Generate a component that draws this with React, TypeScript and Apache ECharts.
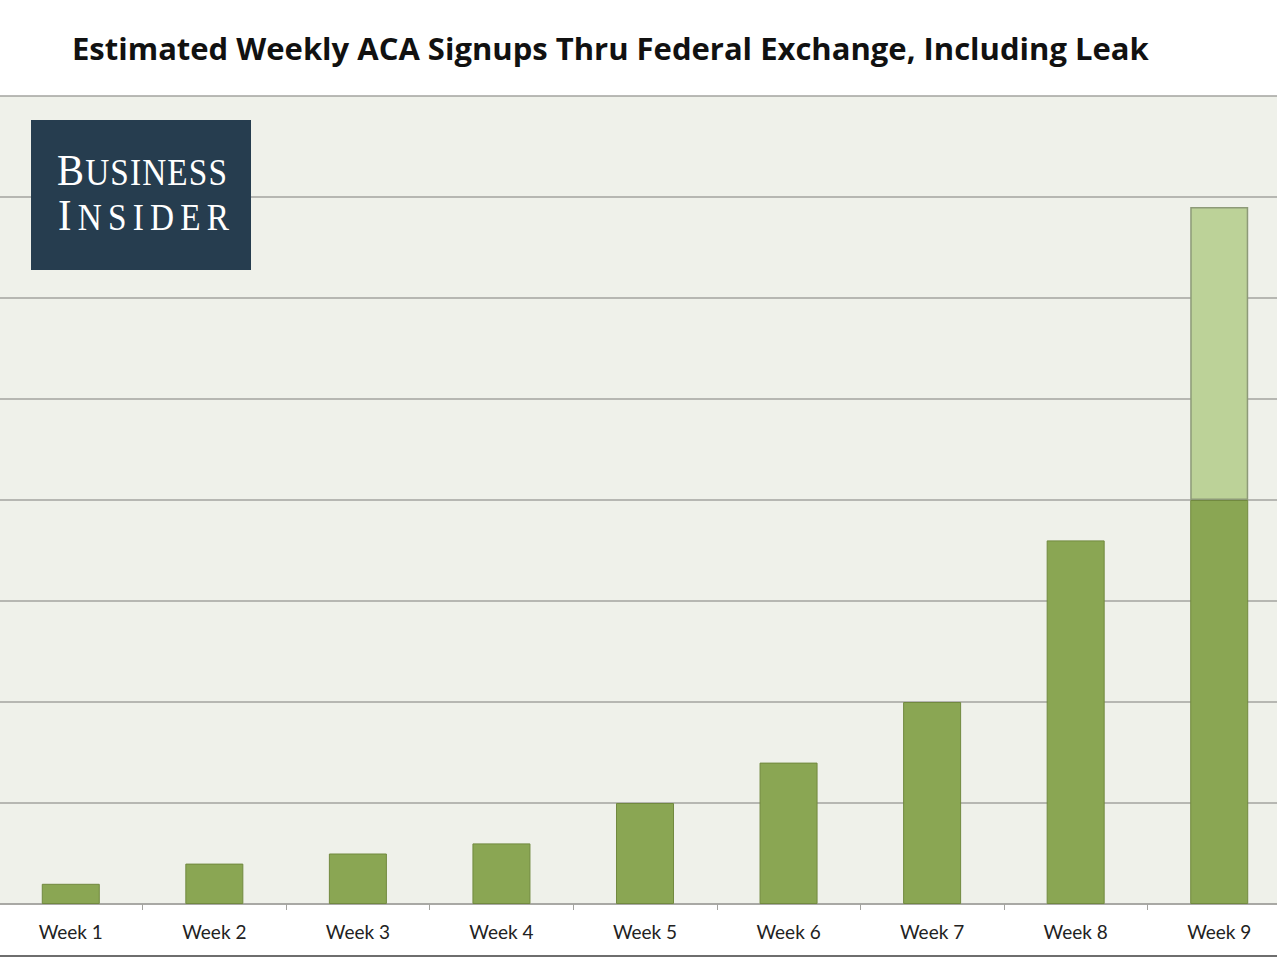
import React, { useEffect, useRef } from "react";
import * as echarts from "echarts";

const weeks = ["Week 1", "Week 2", "Week 3", "Week 4", "Week 5", "Week 6", "Week 7", "Week 8", "Week 9"];
const reported = [0.2, 0.4, 0.5, 0.6, 1.0, 1.4, 2.0, 3.6, 4.0];
const leak = ["-", "-", "-", "-", "-", "-", "-", "-", 2.9];

// Business Insider logo, drawn in small caps letter by letter
const serifAdvance: Record<string, number> = { B: 0.667, U: 0.722, S: 0.556, I: 0.333, N: 0.722, E: 0.611, D: 0.722, R: 0.667 };

const logoLetters = (word: string, left: number, right: number, baseline: number) => {
    const big = 45;
    const small = 37;
    const sx = 0.9;
    const widths = word.split("").map((ch, i) => serifAdvance[ch] * (i === 0 ? big : small) * sx);
    const total = widths.reduce((a, b) => a + b, 0);
    const gap = (right - left - total) / (word.length - 1);
    let x = left;
    return word.split("").map((ch, i) => {
        const size = i === 0 ? big : small;
        const el = {
            type: "text",
            z: 100,
            x,
            y: baseline - 0.34 * size,
            scaleX: sx,
            style: {
                text: ch,
                fontFamily: "Liberation Serif",
                fontSize: size,
                fill: "#ffffff",
                align: "left",
                verticalAlign: "middle",
            },
        };
        x += widths[i] + gap;
        return el;
    });
};

const App: React.FC = () => {
    const chartRef = useRef<HTMLDivElement>(null);

    useEffect(() => {
        if (!chartRef.current) return;
        const chart = echarts.init(chartRef.current, null, { renderer: "svg" });

        const options = {
            animation: false,
            backgroundColor: "#ffffff",
            title: {
                text: "Estimated Weekly ACA Signups Thru Federal Exchange, Including Leak",
                left: 67,
                top: 27,
                textStyle: {
                    fontFamily: "Open Sans",
                    fontWeight: "bold",
                    fontSize: 31,
                    color: "#111111",
                },
            },
            grid: {
                show: true,
                outerBoundsMode: "none",
                left: -1,
                width: 1292,
                top: 96,
                bottom: 54,
                backgroundColor: "#eff1ea",
                borderWidth: 0,
            },
            xAxis: {
                type: "category",
                data: weeks,
                axisLine: { lineStyle: { color: "#a3a39f", width: 1.5 } },
                axisTick: { show: true, length: 6, lineStyle: { color: "#a3a39f" } },
                axisLabel: {
                    margin: 18,
                    fontFamily: "Lato",
                    fontSize: 19,
                    color: "#222222",
                },
            },
            yAxis: {
                type: "value",
                min: 0,
                max: 8,
                interval: 1,
                axisLabel: { show: false },
                axisLine: { show: false },
                axisTick: { show: false },
                splitLine: { lineStyle: { color: "#a3a39f", width: 1.5 } },
            },
            series: [
                {
                    name: "Reported",
                    type: "bar",
                    stack: "signups",
                    barWidth: 58,
                    data: reported,
                    itemStyle: { color: "#8aa653", borderColor: "#71893f", borderWidth: 1 },
                },
                {
                    name: "Leak",
                    type: "bar",
                    stack: "signups",
                    barWidth: 58,
                    data: leak,
                    itemStyle: { color: "#bcd298", borderColor: "#8d9a78", borderWidth: 1.5 },
                },
            ],
            graphic: [
                {
                    type: "line",
                    z: 100,
                    shape: { x1: 0, y1: 956, x2: 1277, y2: 956 },
                    style: { stroke: "#6e6e6e", lineWidth: 2 },
                },
                {
                    type: "rect",
                    z: 99,
                    shape: { x: 31, y: 120, width: 220, height: 150 },
                    style: { fill: "#263d4f" },
                },
                ...logoLetters("BUSINESS", 57, 227, 185),
                ...logoLetters("INSIDER", 58, 229, 230),
            ],
        };

        chart.setOption(options);

        return () => {
            chart.dispose();
        };
    }, []);

    return (
        <div
            ref={chartRef}
            style={{ position: "absolute", left: 0, top: 0, width: "1277px", height: "958px" }}
        />
    );
};

export default App;
